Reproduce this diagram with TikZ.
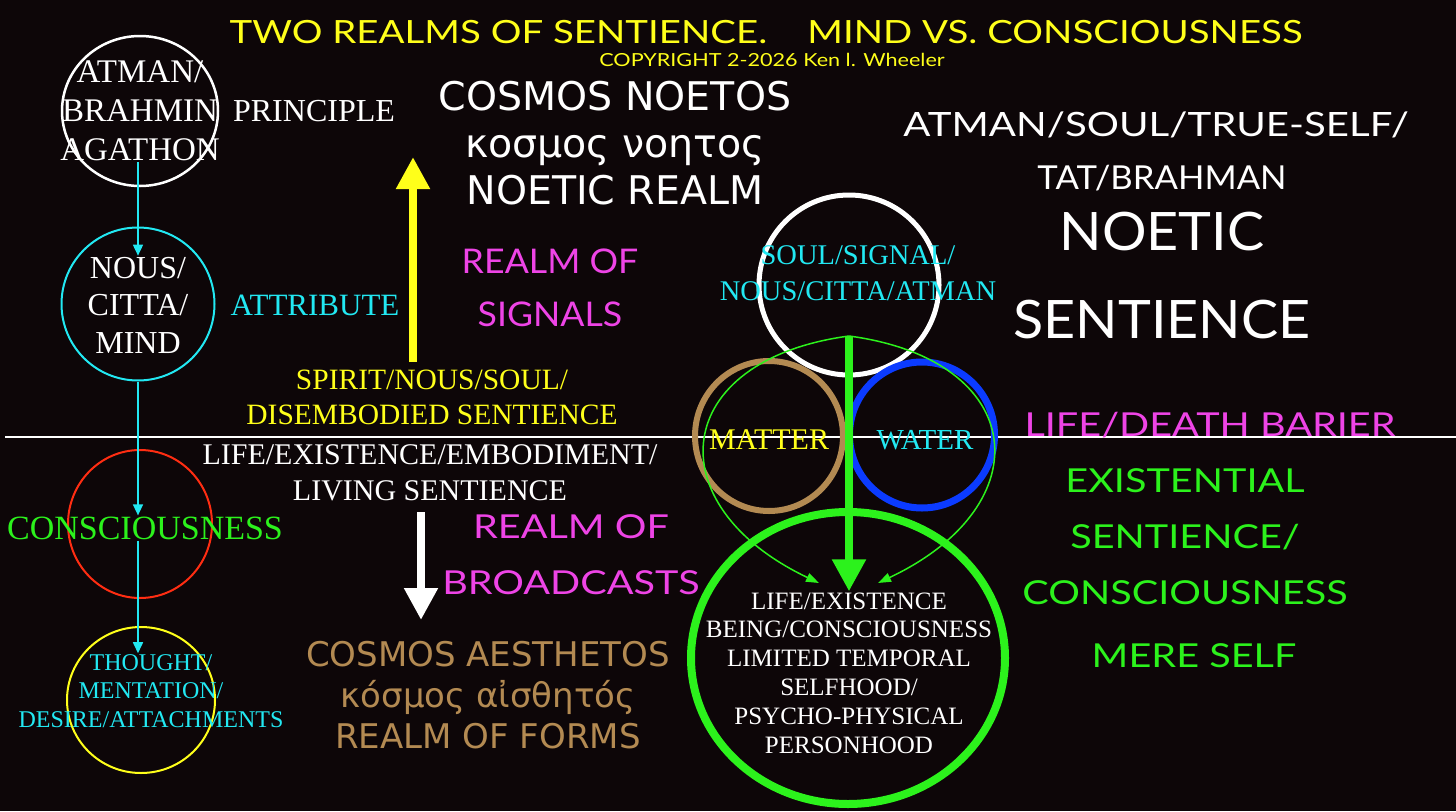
\documentclass[tikz,border=0pt]{standalone}
\usepackage{fontspec}
\setmainfont{Liberation Serif}
\newfontfamily\papyfont{Lato}[FakeStretch=1.2]
\newfontfamily\papyplain{Lato}[FakeStretch=1.05]
\newfontfamily\verdfont{DejaVu Sans}
\usepackage{tikz}
\usetikzlibrary{positioning, arrows.meta, shapes.geometric}
\definecolor{bgInk}{HTML}{0D0608}
\definecolor{rYellow}{HTML}{FFFF1A}
\definecolor{rCyan}{HTML}{22E8F2}
\definecolor{rGreen}{HTML}{2CF21C}
\definecolor{rMagenta}{HTML}{EE44E6}
\definecolor{rBrown}{HTML}{B38A52}
\definecolor{rBlue}{HTML}{0B3BFF}
\definecolor{rRed}{HTML}{FF2D12}
\tikzset{
  ring/.style={ellipse, draw, inner sep=0pt},
  serif/.style 2 args={font=\fontsize{#1}{#2}\selectfont, align=center, inner sep=1pt},
  papy/.style 2 args={font=\papyfont\fontsize{#1}{#2}\selectfont, align=center, inner sep=1pt},
  papyp/.style 2 args={font=\papyplain\fontsize{#1}{#2}\selectfont, align=center, inner sep=1pt},
  verd/.style 2 args={font=\verdfont\fontsize{#1}{#2}\selectfont, align=center, inner sep=1pt},
  thin arrow/.style={-{Triangle[width=10pt,length=11pt]}, line width=1.6pt},
  fat arrow/.style={-{Triangle[width=32pt,length=32pt]}, line width=8pt},
  curve arrow/.style={-{Triangle[width=9pt,length=13pt]}, line width=1.5pt, rGreen},
}

\begin{document}
\begin{tikzpicture}[x=1pt, y=-1pt]
  \fill[bgInk] (0,0) rectangle (1456,811);
  \useasboundingbox (0,0) rectangle (1456,811);

  % heading
  \node[papy={32}{38}, text=rYellow] (title) at (766,32) {TWO REALMS OF SENTIENCE.\hspace{40pt}MIND VS. CONSCIOUSNESS};
  \node[papy={18}{20}, text=rYellow] (copy) at (772,60) {COPYRIGHT 2-2026 Ken l. Wheeler};

  % divider
  \coordinate (barL) at (5,437);
  \coordinate (barR) at (1456,437);
  \draw[white, line width=2pt] (barL) -- (barR);

  % left column of rings
  \node[ring, draw=white, line width=2.5pt, minimum width=156pt, minimum height=150pt] (atman) at (140,111) {};
  \node[serif={33}{39}, text=white] (atmanTxt) at (140,111) {ATMAN/\\BRAHMIN\\AGATHON};
  \node[serif={32}{38}, text=white] (principle) at (314,111) {PRINCIPLE};

  \node[ring, draw=rCyan, line width=2pt, minimum width=153pt, minimum height=153pt] (nous) at (138,304) {};
  \node[serif={32}{37.5}, text=white] (nousTxt) at (138,305) {NOUS/\\CITTA/\\MIND};
  \node[serif={31}{36}, text=rCyan] (attribute) at (315,305) {ATTRIBUTE};

  \node[ring, draw=rRed, line width=2pt, minimum width=144pt, minimum height=148pt] (consc) at (140,524) {};
  \node[serif={34}{40}, text=rGreen] (conscTxt) at (145,528) {CONSCIOUSNESS};

  \node[ring, draw=rYellow, line width=2pt, minimum width=148pt, minimum height=146pt] (thought) at (141,700) {};
  \node[serif={24}{28.5}, text=rCyan] (thoughtTxt) at (151,691) {THOUGHT/\\MENTATION/\\DESIRE/ATTACHMENTS};

  \draw[thin arrow, rCyan] (nous |- atmanTxt.south) -- (nous |- nousTxt.north);
  \draw[thin arrow, rCyan] (nous.south) -- (nous |- conscTxt.north);
  \draw[thin arrow, rCyan] (nous |- conscTxt.south) -- (nous |- thoughtTxt.north);

  % middle column
  \node[verd={39.5}{47}, text=white] (cosmosN) at (615,143) {COSMOS NOETOS\\κοσμος νοητος\\NOETIC REALM};
  \node[papyp={34}{53}, text=rMagenta] (realmSig) at (550,288) {REALM OF\\SIGNALS};
  \node[serif={29.5}{35}, text=rYellow] (spirit) at (432,397) {SPIRIT/NOUS/SOUL/\\DISEMBODIED SENTIENCE};
  \node[serif={30}{36}, text=white] (living) at (430,473) {LIFE/EXISTENCE/EMBODIMENT/\\LIVING SENTIENCE};
  \node[papy={33}{56}, text=rMagenta] (realmBro) at (571,555) {REALM OF\\BROADCASTS};
  \node[verd={34}{41}, text=rBrown] (cosmosA) at (488,695) {COSMOS AESTHETOS\\κόσμος αἰσθητός\\REALM OF FORMS};

  \coordinate (upStart) at (413,362);
  \coordinate (upTip) at (413,157);
  \coordinate (downStart) at (421,512);
  \coordinate (downTip) at (421,620);
  \draw[fat arrow, rYellow] (upStart) -- (upTip);
  \draw[fat arrow, white] (downStart) -- (downTip);

  % rings of the embodied self
  \node[ring, draw=white, line width=5pt, minimum width=180pt, minimum height=180pt] (soul) at (849,285) {};
  \node[serif={28.5}{36}, text=rCyan] (soulTxt) at (858,273) {SOUL/SIGNAL/\\NOUS/CITTA/ATMAN};
  \node[ring, draw=rBrown, line width=6pt, minimum width=148pt, minimum height=150pt] (matter) at (769,436) {};
  \node[ring, draw=rBlue, line width=7pt, minimum width=145pt, minimum height=146pt] (water) at (922,435) {};
  \node[serif={30}{36}, text=rYellow] (matterTxt) at (769,440) {MATTER};
  \node[serif={29}{36}, text=rCyan] (waterTxt) at (925,440) {WATER};
  \node[ring, draw=rGreen, line width=8pt, minimum width=314pt, minimum height=292pt] (life) at (848,658) {};
  \node[serif={25}{28.8}, text=white] (lifeTxt) at (849,673) {LIFE/EXISTENCE\\BEING/CONSCIOUSNESS\\LIMITED TEMPORAL\\SELFHOOD/\\PSYCHO-PHYSICAL\\PERSONHOOD};

  \coordinate (src) at (849,336);
  \coordinate (tipL) at (819,583);
  \coordinate (tipR) at (878,583);
  \draw[fat arrow, rGreen] (src) -- (lifeTxt.north);
  \draw[curve arrow] (src) .. controls (670,360) and (655,505) .. (tipL);
  \draw[curve arrow] (src) .. controls (1028,360) and (1043,505) .. (tipR);

  % right column
  \node[papy={33.5}{40}, text=white] (atmanR) at (1156,125) {ATMAN/SOUL/TRUE-SELF/};
  \node[papyp={33}{40}, text=white] (brahman) at (1162,178) {TAT/BRAHMAN};
  \node[papyp={53}{88}, text=white] (noetic) at (1162,276) {NOETIC\\SENTIENCE};
  \node[papy={33}{40}, text=rMagenta] (barrier) at (1210,425) {LIFE/DEATH BARIER};
  \node[papy={33}{56}, text=rGreen] (exist) at (1185,537) {EXISTENTIAL\\SENTIENCE/\\CONSCIOUSNESS};
  \node[papy={33}{40}, text=rGreen] (mere) at (1194,656) {MERE SELF};
\end{tikzpicture}
\end{document}
